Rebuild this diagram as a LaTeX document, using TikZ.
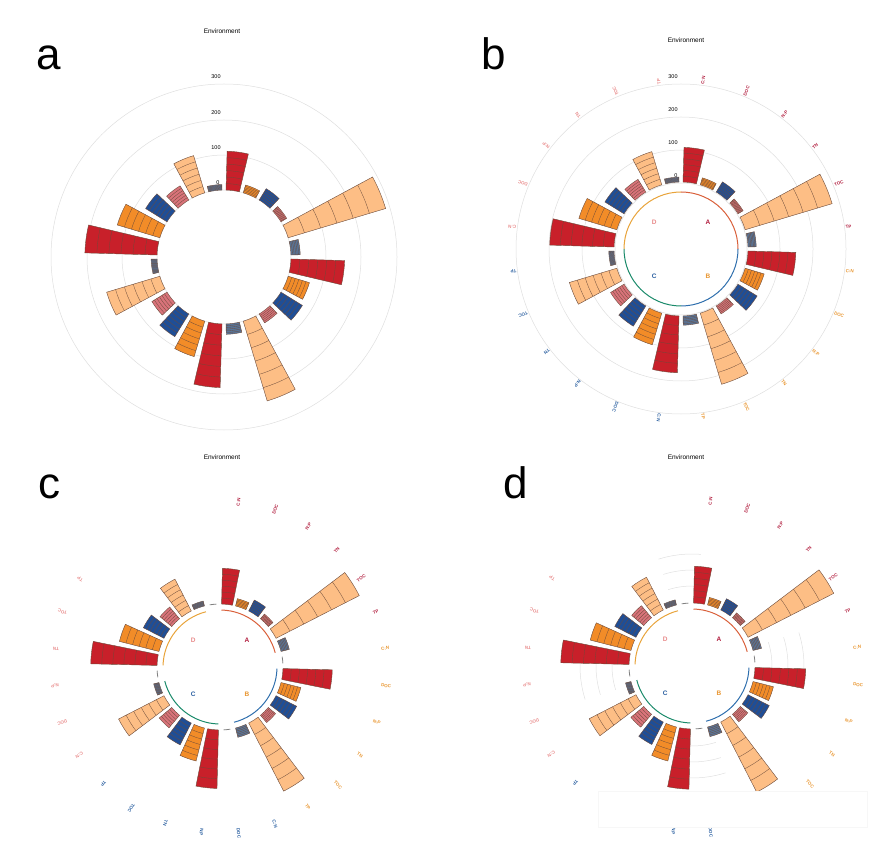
\documentclass[tikz,border=0pt]{standalone}
\usepackage{fontspec}
\setmainfont{Liberation Sans}
\definecolor{cCN}{HTML}{C8202A}
\definecolor{cDOC}{HTML}{F28C28}
\definecolor{cNP}{HTML}{1F4E96}
\definecolor{cTN}{HTML}{D9737A}
\definecolor{cTOC}{HTML}{FDBE85}
\definecolor{cTP}{HTML}{587599}
\definecolor{edge}{HTML}{6B4A3A}
\definecolor{gA}{HTML}{B22040}
\definecolor{gB}{HTML}{E8952F}
\definecolor{gC}{HTML}{2A5FA0}
\definecolor{gD}{HTML}{E88A8A}
\definecolor{aA}{HTML}{D9603B}
\definecolor{aB}{HTML}{2F6FAD}
\definecolor{aC}{HTML}{1A8A6A}
\definecolor{aD}{HTML}{E8A33A}
\def\vals{105,22,36,18,275,25,145,60,68,28,225,28,172,100,72,48,150,16,195,120,68,45,105,15}
\tikzset{
  mygrid/.style={draw=black!13,line width=0.5pt},
  mybar/.style={draw=edge,line width=0.4pt},
  myseg/.style={draw=edge,line width=0.3pt},
  lab/.style={font=\fontsize{4.5}{5}\selectfont\bfseries,inner sep=0pt},
  ttl/.style={font=\fontsize{6.5}{7}\selectfont},
  sc/.style={font=\fontsize{5.5}{6}\selectfont},
  big/.style={font=\fontsize{44}{44}\selectfont,inner sep=0pt,anchor=base west},
  grp/.style={font=\fontsize{6.5}{7}\selectfont\bfseries},
  ring/.style={line width=1pt},
  gapdash/.style={draw=black!50,line width=0.8pt},
}
% #1 cx #2 cy #3 base #4 scale #5 slot #6 halfwidth #7 gapmode
\newcommand\mybars[7]{%
\begin{scope}[shift={(#1,#2)}]
\foreach \v [count=\i from 0] in \vals {%
  \pgfmathtruncatemacro\k{mod(\i,6)}%
  \pgfmathtruncatemacro\g{int(\i/6)}%
  \edef\cn{\ifcase\k cCN\or cDOC\or cNP\or cTN\or cTOC\or cTP\fi}%
  \pgfmathsetmacro\th{90-#5*(\i+#7*\g+0.5)}%
  \pgfmathsetmacro\ta{\th-#6}%
  \pgfmathsetmacro\tb{\th+#6}%
  \pgfmathsetmacro\ra{#3}%
  \pgfmathsetmacro\rb{#3+\v*#4}%
  \filldraw[mybar,fill=\cn] (\ta:\ra) arc[start angle=\ta,end angle=\tb,radius=\ra] -- (\tb:\rb) arc[start angle=\tb,end angle=\ta,radius=\rb] -- cycle;
  \foreach \j in {1,...,5}{%
    \pgfmathsetmacro\rr{\ra+\j*(\rb-\ra)/6}%
    \draw[myseg] (\ta:\rr) arc[start angle=\ta,end angle=\tb,radius=\rr];}
}
\end{scope}}
% #1 cx #2 cy #3 r #4 slot
\newcommand\mylabels[4]{%
\begin{scope}[shift={(#1,#2)}]
\foreach \i in {0,...,23} {%
  \pgfmathtruncatemacro\k{mod(\i,6)}%
  \pgfmathtruncatemacro\g{int(\i/6)}%
  \edef\gc{\ifcase\g gA\or gB\or gC\or gD\fi}%
  \pgfmathsetmacro\th{90-#4*(\i+0.5)}%
  \node[lab,text=\gc,rotate=\th,anchor=west] (L\i) at (\th:#3) {\ifcase\k C:N\or DOC\or N:P\or TN\or TOC\or TP\fi};
}
\end{scope}}
\newcommand\mygroups[2]{%
\begin{scope}[shift={(#1,#2)}]
\node[grp,text=gA] (GA) at (45:38) {A};
\node[grp,text=gB] (GB) at (-45:38) {B};
\node[grp,text=gC] (GC) at (-135:38) {C};
\node[grp,text=gD] (GD) at (135:38) {D};
\end{scope}}
\begin{document}
\begin{tikzpicture}[x=1pt,y=1pt]
\useasboundingbox (0,0) rectangle (893,847);
% ---------- a ----------
\node[big] (pa) at (36,777) {a};
\node[ttl] (ta) at (222,816) {Environment};
\begin{scope}[shift={(224,590)}]
\foreach \r in {67,102,137,173} \draw[mygrid] (0,0) circle[radius=\r];
\node[sc] (a0) at (-6,74) {0};
\node[sc] (a1) at (-8,109) {100};
\node[sc] (a2) at (-8,144) {200};
\node[sc] (a3) at (-8,180) {300};
\end{scope}
\mybars{224}{590}{67}{0.37}{15}{5.8}{0}
% ---------- b ----------
\node[big] (pb) at (481,777) {b};
\node[ttl] (tb) at (686,807) {Environment};
\begin{scope}[shift={(681,598)}]
\foreach \r in {66,99,132,165} \draw[mygrid] (0,0) circle[radius=\r];
\node[sc] (b0) at (-5,73) {0};
\node[sc] (b1) at (-8,106) {100};
\node[sc] (b2) at (-8,139) {200};
\node[sc] (b3) at (-8,172) {300};
\draw[ring,aA] (90:57) arc[start angle=90,end angle=0,radius=57];
\draw[ring,aB] (0:57) arc[start angle=0,end angle=-90,radius=57];
\draw[ring,aC] (-90:57) arc[start angle=-90,end angle=-180,radius=57];
\draw[ring,aD] (180:57) arc[start angle=180,end angle=90,radius=57];
\end{scope}
\mybars{681}{598}{67}{0.33}{15}{5.8}{0}
\mylabels{681}{598}{166}{15}
\mygroups{681}{598}
% ---------- c ----------
\node[big] (pc) at (38,349) {c};
\node[ttl] (tc) at (222,390) {Environment};
\begin{scope}[shift={(220,180)}]
\foreach \s/\e/\c in {88.5/14.4/aA,-1.6/-75.7/aB,-91.6/-165.7/aC,178.4/104.3/aD}
  \draw[ring,\c] (\s:57) arc[start angle=\s,end angle=\e,radius=57];
\foreach \m in {96.4,6.4,-83.6,-173.6}
  \draw[gapdash] (\m+3:63) arc[start angle=\m+3,end angle=\m-3,radius=63];
\end{scope}
\mybars{220}{180}{63}{0.34}{12.857}{5}{1}
\mylabels{220}{180}{162}{12.857}
\mygroups{220}{180}
% ---------- d ----------
\node[big] (pd) at (503,349) {d};
\node[ttl] (td) at (686,390) {Environment};
\begin{scope}[shift={(692,181)}]
\foreach \m in {96.4,6.4,-83.6,-173.6}
  \foreach \r in {80,96,112}
    \draw[mygrid,draw=black!12] (\m+11:\r) arc[start angle=\m+11,end angle=\m-11,radius=\r];
\foreach \s/\e/\c in {88.5/14.4/aA,-1.6/-75.7/aB,-91.6/-165.7/aC,178.4/104.3/aD}
  \draw[ring,\c] (\s:57) arc[start angle=\s,end angle=\e,radius=57];
\foreach \m in {96.4,6.4,-83.6,-173.6}
  \draw[gapdash] (\m+3:63) arc[start angle=\m+3,end angle=\m-3,radius=63];
\end{scope}
\mybars{692}{181}{63}{0.35}{12.857}{5}{1}
\mylabels{692}{181}{162}{12.857}
\mygroups{692}{181}
\fill[white] (598,20) rectangle (867,56);
\draw[black!3,line width=0.3pt] (598,20) rectangle (867,56);
\end{tikzpicture}
\end{document}
